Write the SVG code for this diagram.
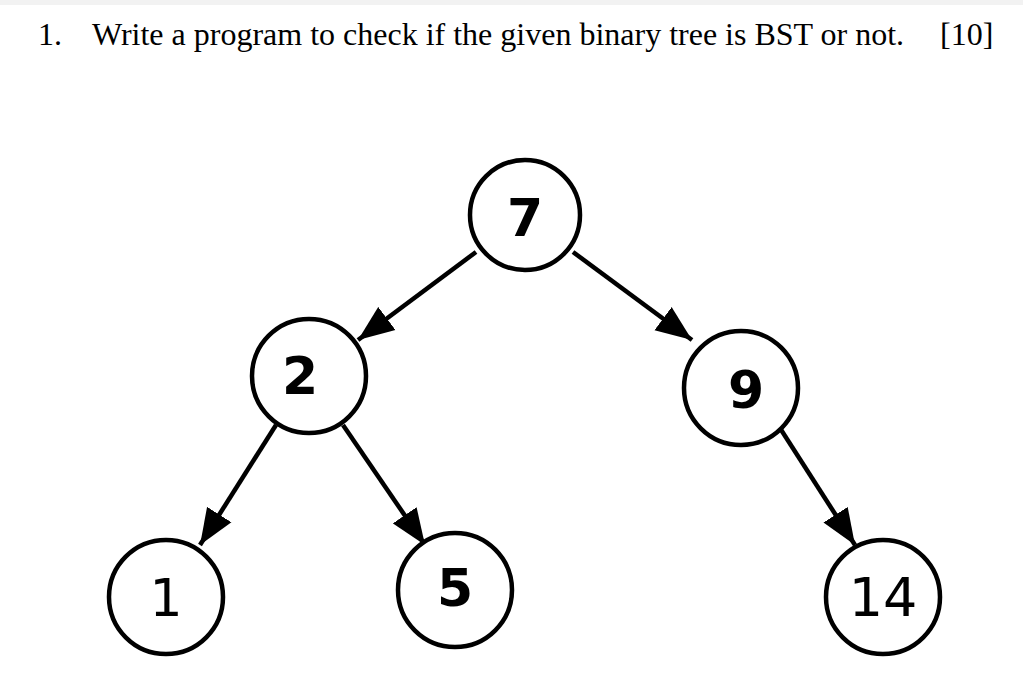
<svg xmlns="http://www.w3.org/2000/svg" width="1023" height="675" viewBox="0 0 1023 675">
<style>
.t{font-family:"Liberation Serif",serif;font-size:32px;fill:#000}
.n circle{fill:#fff;stroke:#000;stroke-width:4.5}
.n text{font-family:"DejaVu Sans",sans-serif;font-size:52px;font-weight:bold;text-anchor:middle;fill:#000}
.n text.r{font-weight:normal}
.e line{stroke:#000;stroke-width:4.5}
</style>
<defs>
<marker id="ah" viewBox="0 0 10 8" refX="10" refY="4" markerWidth="36" markerHeight="30" orient="auto" markerUnits="userSpaceOnUse"><path d="M0,0L10,4L0,8z" fill="#000"/></marker></defs>
<rect width="1023" height="675" fill="#fff"/>
<rect width="1023" height="5" fill="#f2f2f2"/>
<text class="t" x="38" y="45">1.</text>
<text class="t" x="92" y="45">Write a program to check if the given binary tree is BST or not.</text>
<text class="t" x="940" y="45">[10]</text>
<g class="e">
<line x1="476" y1="252" x2="358" y2="340" marker-end="url(#ah)"/>
<line x1="573" y1="252" x2="692" y2="340" marker-end="url(#ah)"/>
<line x1="276" y1="425" x2="200" y2="545" marker-end="url(#ah)"/>
<line x1="343" y1="425" x2="425" y2="545" marker-end="url(#ah)"/>
<line x1="778" y1="425" x2="855" y2="545" marker-end="url(#ah)"/>
</g>
<g id="n7" class="n"><circle cx="525" cy="215" r="55"/><text x="525" y="236">7</text></g>
<g id="n2" class="n"><circle cx="309" cy="376" r="57"/><text x="300" y="394">2</text></g>
<g id="n9" class="n"><circle cx="741" cy="388" r="57"/><text x="746" y="408">9</text></g>
<g id="n1" class="n"><circle cx="166" cy="597" r="57"/><text class="r" x="166" y="616">1</text></g>
<g id="n5" class="n"><circle cx="455" cy="590" r="57"/><text x="455" y="606">5</text></g>
<g id="n14" class="n"><circle cx="883" cy="597" r="57"/><text class="r" x="883" y="616" style="font-size:54px">14</text></g>
</svg>
